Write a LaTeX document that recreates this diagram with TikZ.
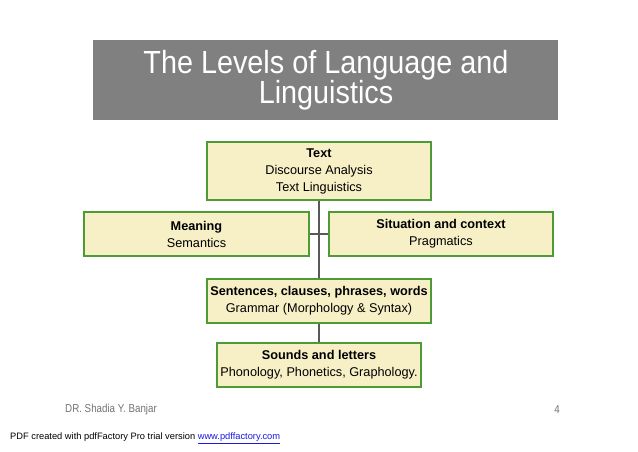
\documentclass[tikz,border=0pt]{standalone}
\usepackage{fontspec}
\setmainfont{Liberation Sans}
\newfontfamily\narrowfont[FakeStretch=0.9]{Liberation Sans}
\newfontfamily\footfont[FakeStretch=0.85]{Liberation Sans}
\definecolor{boxfill}{HTML}{F7EFC6}
\definecolor{boxline}{HTML}{4E9A35}
\definecolor{titlegray}{HTML}{808080}
\definecolor{linkblue}{HTML}{1A1AE6}
\begin{document}
\begin{tikzpicture}[x=1pt,y=-1pt,
  levelbox/.style={draw=boxline, fill=boxfill, line width=1.2pt, inner sep=0pt,
    align=center, font=\fontsize{12.7}{17}\selectfont},
  conn/.style={draw=black!65, line width=1.3pt}]
\useasboundingbox[fill=white] (0,0) rectangle (638,451);
\node[fill=titlegray, minimum width=465pt, minimum height=80pt, inner sep=0pt] (titlebox) at (325.5,80) {};
\node[text=white, align=center, font=\narrowfont\fontsize{32}{30}\selectfont] (title) at (326,80) {The Levels of Language and\\Linguistics};
\node[levelbox, minimum width=224pt, minimum height=58pt] (text) at (319,171) {\textbf{Text}\\Discourse Analysis\\Text Linguistics};
\node[levelbox, minimum width=225pt, minimum height=44pt] (mean) at (196.5,234) {\textbf{Meaning}\\Semantics};
\node[levelbox, minimum width=224pt, minimum height=44pt] (sit) at (441,234) {\textbf{Situation and context}\\Pragmatics};
\node[levelbox, minimum width=224pt, minimum height=44pt] (sent) at (319,301) {\textbf{Sentences, clauses, phrases, words}\\Grammar (Morphology \& Syntax)};
\node[levelbox, minimum width=204pt, minimum height=44pt] (sound) at (319,365) {\textbf{Sounds and letters}\\Phonology, Phonetics, Graphology.};
\draw[conn] (text.south) -- (sent.north);
\draw[conn] (sent.south) -- (sound.north);
\draw[conn] (mean.east) -- (sit.west);
\node[anchor=west, text=black!55, font=\footfont\fontsize{11.5}{13}\selectfont, inner sep=0pt] (author) at (65,410) {DR. Shadia Y. Banjar};
\node[anchor=east, text=black!55, font=\footfont\fontsize{11.5}{13}\selectfont, inner sep=0pt] (page) at (560,410) {4};
\node[anchor=west, font=\fontsize{9.3}{11}\selectfont, inner sep=0pt] (pdf) at (10,438) {PDF created with pdfFactory Pro trial version \textcolor{linkblue}{\underline{www.pdffactory.com}}};
\end{tikzpicture}
\end{document}
